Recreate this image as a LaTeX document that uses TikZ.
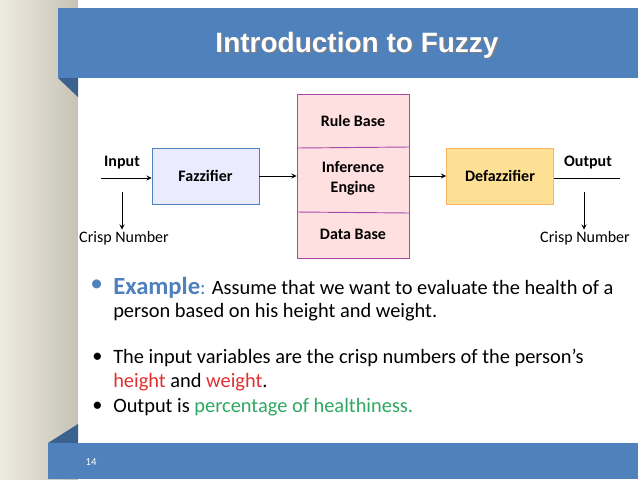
\documentclass[tikz,border=0pt]{standalone}
\usepackage{fontspec}
\setmainfont{Carlito}
\newfontfamily\arialfont{Liberation Sans}
\definecolor{ttblue}{HTML}{4F81BD}
\definecolor{exblue}{HTML}{4F81BD}
\definecolor{hred}{HTML}{E03030}
\definecolor{hgreen}{HTML}{2EA862}
\definecolor{stripL}{HTML}{EEEBDF}
\definecolor{stripR}{HTML}{C6C3B6}
\tikzset{
  blk/.style={draw, line width=0.7pt, minimum width=107*0.75pt, minimum height=56*0.75pt, font=\fontsize{12}{14}\selectfont\bfseries, align=center},
  lab/.style={font=\fontsize{12}{14}\selectfont, inner sep=1pt},
  arr/.style={->, >=stealth, line width=0.7pt},
  body/.style={font=\fontsize{15.3}{18}\selectfont, anchor=west, inner sep=0pt}
}
\begin{document}
\begin{tikzpicture}[x=0.75pt,y=-0.75pt]
\useasboundingbox (0,0) rectangle (638,479);
\shade[left color=stripL, right color=stripR] (0,0) rectangle (78,479);
\fill[white] (78,0) rectangle (638,443);
% title bar
\fill[ttblue!75!black] (58,78) -- (78,78) -- (78,97) -- cycle;
\fill[ttblue] (58,8) rectangle (638,78);
\node[text=black!50, font=\arialfont\fontsize{21}{24}\selectfont\bfseries] at (358.5,46.5) {Introduction to Fuzzy};
\node[text=white, font=\arialfont\fontsize{21}{24}\selectfont\bfseries] (title) at (357,45) {Introduction to Fuzzy};
% bottom bar
\fill[ttblue!75!black] (48,443) -- (78,443) -- (78,424) -- cycle;
\fill[ttblue] (48,443) rectangle (638,479);
\node[text=white, font=\fontsize{8}{9}\selectfont] (pg) at (91,462) {14};
% diagram
\node[blk, fill=blue!8, draw=ttblue] (faz) at (205.5,176) {Fazzifier};
\node[blk, fill=red!12, draw=violet!70, minimum width=112*0.75pt, minimum height=164*0.75pt] (rb) at (353,176) {};
\draw[violet!70, line width=0.7pt] (297,148) -- (409,147);
\draw[violet!70, line width=0.7pt] (297,212) -- (409,213);
\node[lab, font=\fontsize{12}{14}\selectfont\bfseries] (rule) at (353,121) {Rule Base};
\node[lab, font=\fontsize{12}{15}\selectfont\bfseries, align=center] (inf) at (353,178) {Inference\\Engine};
\node[lab, font=\fontsize{12}{14}\selectfont\bfseries] (data) at (353,234) {Data Base};
\node[blk, fill=yellow!45!orange!40, draw=orange!60] (def) at (500,176) {Defazzifier};
\node[lab, font=\fontsize{12}{14}\selectfont\bfseries] (in) at (122,163) {Input};
\node[lab, font=\fontsize{12}{14}\selectfont\bfseries] (out) at (588,163) {Output};
\coordinate (inL) at (101,178);
\coordinate (outR) at (620,178);
\draw[arr] (inL) -- (faz.west |- inL);
\draw[line width=0.7pt] (def.east |- outR) -- (outR);
\draw[arr] (faz.east) -- (rb.west);
\draw[arr] (rb.east) -- (def.west);
\node[lab] (cn1) at (124,238) {Crisp Number};
\node[lab] (cn2) at (585,238) {Crisp Number};
\coordinate (d1) at (122,192);
\coordinate (d2) at (584,192);
\draw[arr] (d1) -- (cn1.north -| d1);
\draw[arr] (d2) -- (cn2.north -| d2);
% text
\node[body, text=exblue] (b1) at (90,286) {\fontsize{19}{20}\selectfont•};
\node[body] (t1) at (113,288) {\textcolor{exblue}{\fontsize{18.5}{20}\selectfont\bfseries Example}\textcolor{exblue}{:} Assume that we want to evaluate the health of a};
\node[body] (t2) at (113,312) {person based on his height and weight.};
\node[body] (b2) at (92,358) {•};
\node[body] (t3) at (113,358) {The input variables are the crisp numbers of the person’s};
\node[body] (t4) at (113,382) {\textcolor{hred}{height} and \textcolor{hred}{weight}.};
\node[body] (b3) at (92,407) {•};
\node[body] (t5) at (113,407) {Output is \textcolor{hgreen}{percentage of healthiness.}};
\end{tikzpicture}
\end{document}
